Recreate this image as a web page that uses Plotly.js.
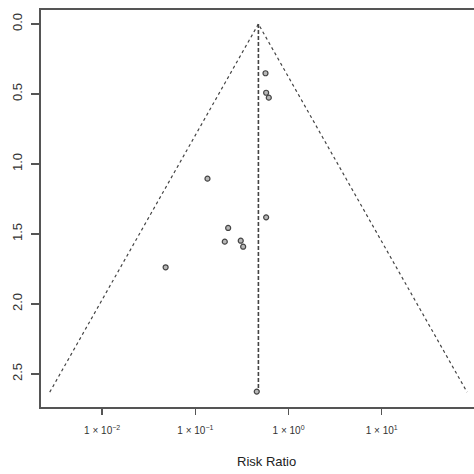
<!DOCTYPE html>
<html>
<head>
<meta charset="utf-8">
<script src="https://cdn.plot.ly/plotly-3.0.1.min.js"></script>
<style>html,body{margin:0;padding:0;background:#fff;overflow:hidden}#chart{width:474px;height:474px}</style>
</head>
<body>
<div id="chart"></div>
<script>
// Study estimates (risk ratio) and standard errors
var studyRR = [0.566, 0.575, 0.614, 0.135, 0.575, 0.225, 0.207, 0.307, 0.326, 0.048, 0.456];
var studySE = [0.352, 0.491, 0.526, 1.105, 1.381, 1.457, 1.555, 1.548, 1.591, 1.738, 2.626];
// Pooled estimate line and funnel (pseudo 95% limits) vertices
var pooledRR = [0.475, 0.475];
var pooledSE = [0, 2.63];
var funnelRR = [0.00274, 0.475, 82.4];
var funnelSE = [2.63, 0, 2.63];
// Tick values / labels
var xTickVals = [0.01, 0.1, 1, 10];
var xTickText = ['1 × 10<sup>−2</sup>', '1 × 10<sup>−1</sup>', '1 × 10<sup>0</sup>', '1 × 10<sup>1</sup>'];
var yTickVals = [0, 0.5, 1, 1.5, 2, 2.5];
var yTickText = ['0.0', '0.5', '1.0', '1.5', '2.0', '2.5'];

var traces = [
  {x: funnelRR, y: funnelSE, mode: 'lines', type: 'scatter',
   line: {color: '#444', width: 1.2, dash: 'dot'}, hoverinfo: 'skip'},
  {x: pooledRR, y: pooledSE, mode: 'lines', type: 'scatter',
   line: {color: '#444', width: 1.6, dash: '4px,2px'}, hoverinfo: 'skip'},
  {x: studyRR, y: studySE, mode: 'markers', type: 'scatter',
   marker: {size: 5, color: '#b8b8b8', line: {color: '#444', width: 1.2}}}
];

var layout = {
  width: 474, height: 474,
  margin: {l: 41, r: 0, t: 10, b: 67},
  paper_bgcolor: '#fff', plot_bgcolor: '#fff',
  showlegend: false,
  font: {family: 'Liberation Sans, Arial, sans-serif', color: '#333'},
  xaxis: {
    type: 'log', range: [-2.656, 1.99],
    tickvals: xTickVals, ticktext: xTickText,
    ticks: 'outside', ticklen: 6, tickwidth: 1.3, tickcolor: '#555',
    ticklabelstandoff: 7,
    showline: true, linecolor: '#555', linewidth: 2, mirror: true,
    showgrid: false, zeroline: false,
    tickfont: {size: 10, color: '#333'}
  },
  yaxis: {
    range: [2.736, -0.1],
    tickvals: yTickVals, ticktext: yTickText,
    tickangle: -90,
    ticks: 'outside', ticklen: 8, tickwidth: 1.3, tickcolor: '#555',
    ticklabelstandoff: 4,
    showline: true, linecolor: '#555', linewidth: 2,
    showgrid: false, zeroline: false,
    tickfont: {size: 13, color: '#333'}
  },
  annotations: [
    {text: 'Risk Ratio', xref: 'paper', yref: 'paper', x: 0.52, y: -0.137,
     xanchor: 'center', yanchor: 'middle', showarrow: false,
     font: {size: 13, color: '#222'}}
  ]
};

Plotly.newPlot('chart', traces, layout, {displayModeBar: false, staticPlot: true});
</script>
</body>
</html>
